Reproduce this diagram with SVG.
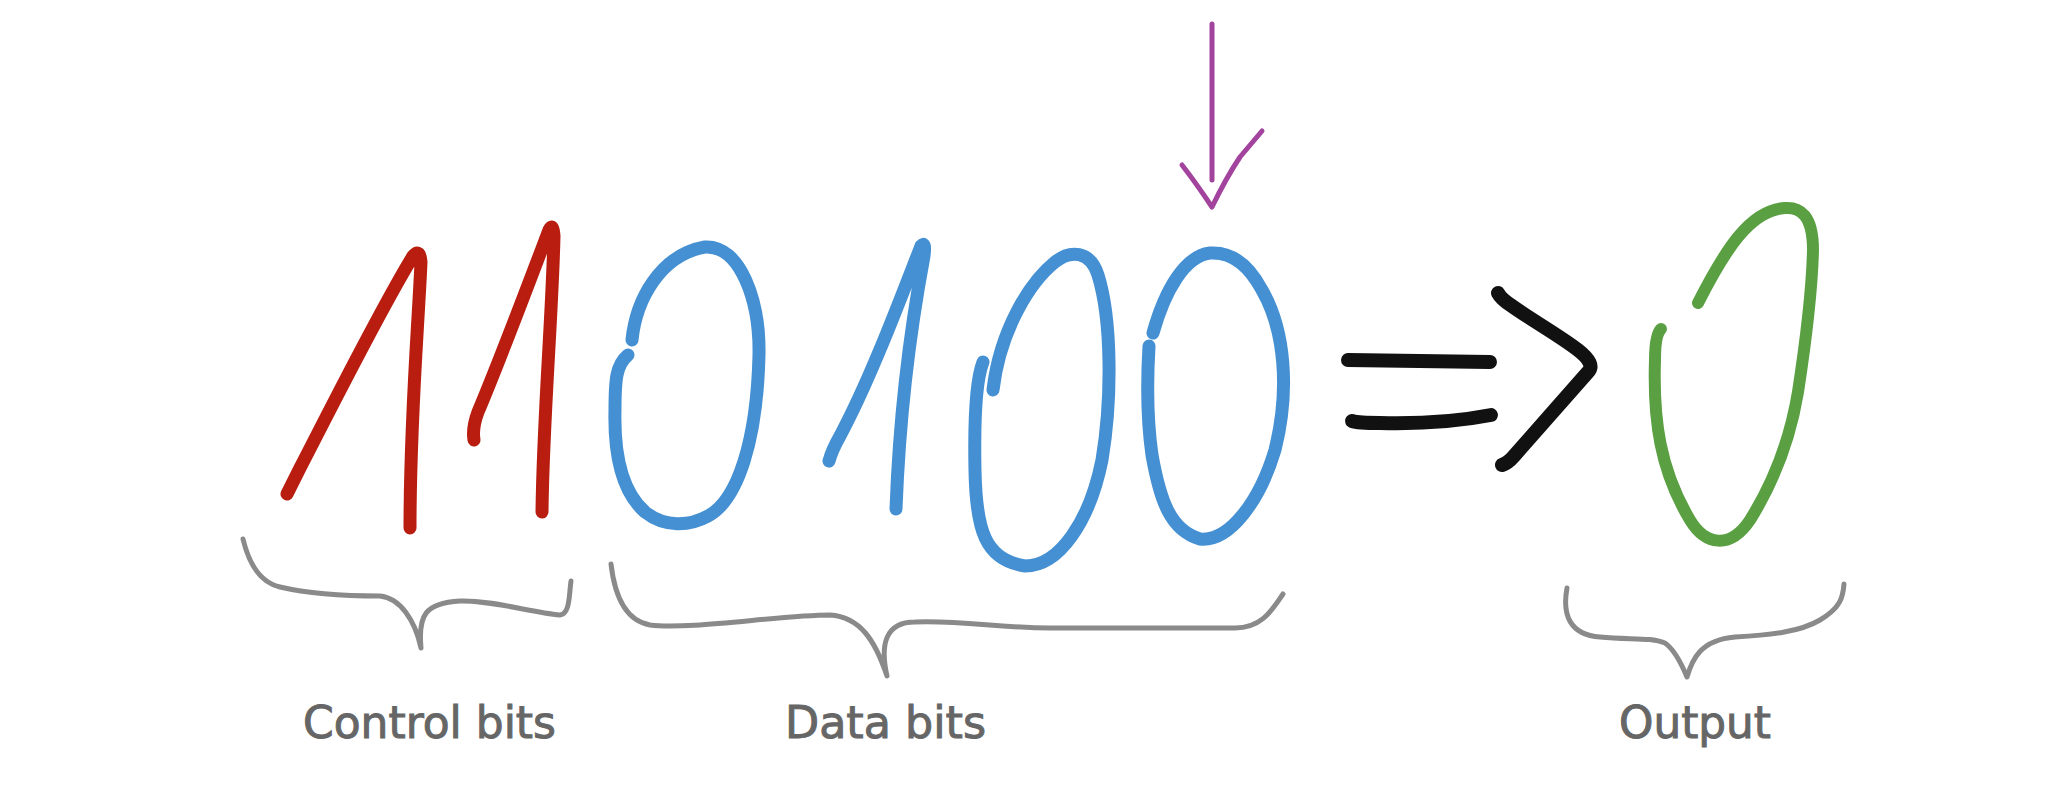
<svg xmlns="http://www.w3.org/2000/svg" width="2048" height="801" viewBox="0 0 2048 801">
<style>
.s{fill:none;stroke-linecap:round;stroke-linejoin:round}
.red{stroke:#B91D10;stroke-width:13}
.blue{stroke:#4590D2;stroke-width:13}
.green{stroke:#5AA042;stroke-width:12}
.black{stroke:#111;stroke-width:14}
.purple{stroke:#A2449E;stroke-width:5}
.brace{stroke:#8a8a8a;stroke-width:5}
.lbl{font-family:"DejaVu Sans","Liberation Sans",sans-serif;font-size:44px;fill:#666;stroke:#666;stroke-width:1}
</style>
<rect width="2048" height="801" fill="#fff"/>
<g id="control-bits">
<path class="s red" d="M287,494 L300,468 C330,410 380,310 413,256 Q420,248 421,262 C418,330 410,420 410,528"/>
<path class="s red" d="M474,440 Q472,428 478,412 C500,360 530,280 549,230 Q553,222 554,236 C552,320 543,420 542,512"/>
</g>
<g id="data-bits">
<path class="s blue" d="M632,340 C636,300 660,255 705,247 C740,245 760,300 759,355 C757,440 738,500 708,516 C690,526 665,528 645,512 C620,490 614,450 615,410 C615,380 616,365 628,355"/>
<path class="s blue" d="M829,461 Q832,450 840,436 C870,380 900,300 921,246 Q926,240 924,256 C912,320 900,400 896,509"/>
<path class="s blue" d="M983,362 C976,380 974,420 975,470 C976,530 985,560 1025,566 C1060,566 1090,520 1102,460 C1112,400 1112,320 1098,275 C1090,250 1070,250 1055,262 C1030,282 1000,330 993,390"/>
<path class="s blue" d="M1149,346 C1147,380 1147,420 1152,455 C1160,500 1170,530 1200,539 C1230,542 1260,500 1275,450 C1290,390 1285,330 1262,290 C1245,258 1225,252 1210,253 C1185,256 1165,290 1153,333"/>
</g>
<g id="pointer">
<path class="s purple" d="M1212,24 L1212,180"/>
<path class="s purple" d="M1182,165 Q1196,183 1212,207 Q1226,178 1240,157 L1262,131"/>
</g>
<g id="implies">
<path class="s black" d="M1348,360 L1490,362"/>
<path class="s black" d="M1352,421 Q1358,423 1380,423 C1420,424 1455,422 1491,415"/>
<path class="s black" d="M1498,293 Q1501,299 1512,306 C1530,319 1560,336 1578,350 Q1596,364 1588,372 L1514,456 Q1508,463 1502,465"/>
</g>
<g id="output">
<path class="s green" d="M1661,329 Q1655,335 1655,360 C1653,420 1660,470 1690,520 C1705,545 1730,550 1750,520 C1775,480 1790,440 1798,392 C1806,340 1812,290 1813,250 C1813,215 1800,207 1785,208 C1750,210 1725,250 1698,303"/>
</g>
<g id="connectors">
<path class="s brace" d="M243,539 C248,560 258,582 280,587 C310,594 350,596 380,596 C400,598 415,620 421,648 C418,615 425,603 460,601 C490,600 530,612 560,615 C570,614 569,595 571,581"/>
<path class="s brace" d="M611,564 C614,590 622,620 650,625 C690,630 780,615 830,615 C860,617 875,640 887,676 C880,645 885,622 915,622 C960,620 1000,628 1050,628 L1235,628 C1262,628 1272,610 1283,594"/>
<path class="s brace" d="M1567,588 C1562,615 1570,635 1600,637 C1630,640 1650,637 1665,643 C1675,650 1682,665 1687,677 C1692,660 1700,640 1735,637 C1770,635 1800,632 1820,620 C1840,608 1843,598 1844,584"/>
</g>
<g id="labels">
<text class="lbl" x="303" y="738" textLength="253" lengthAdjust="spacingAndGlyphs">Control bits</text>
<text class="lbl" x="785" y="738" textLength="201" lengthAdjust="spacingAndGlyphs">Data bits</text>
<text class="lbl" x="1619" y="738" textLength="152" lengthAdjust="spacingAndGlyphs">Output</text>
</g>
</svg>
